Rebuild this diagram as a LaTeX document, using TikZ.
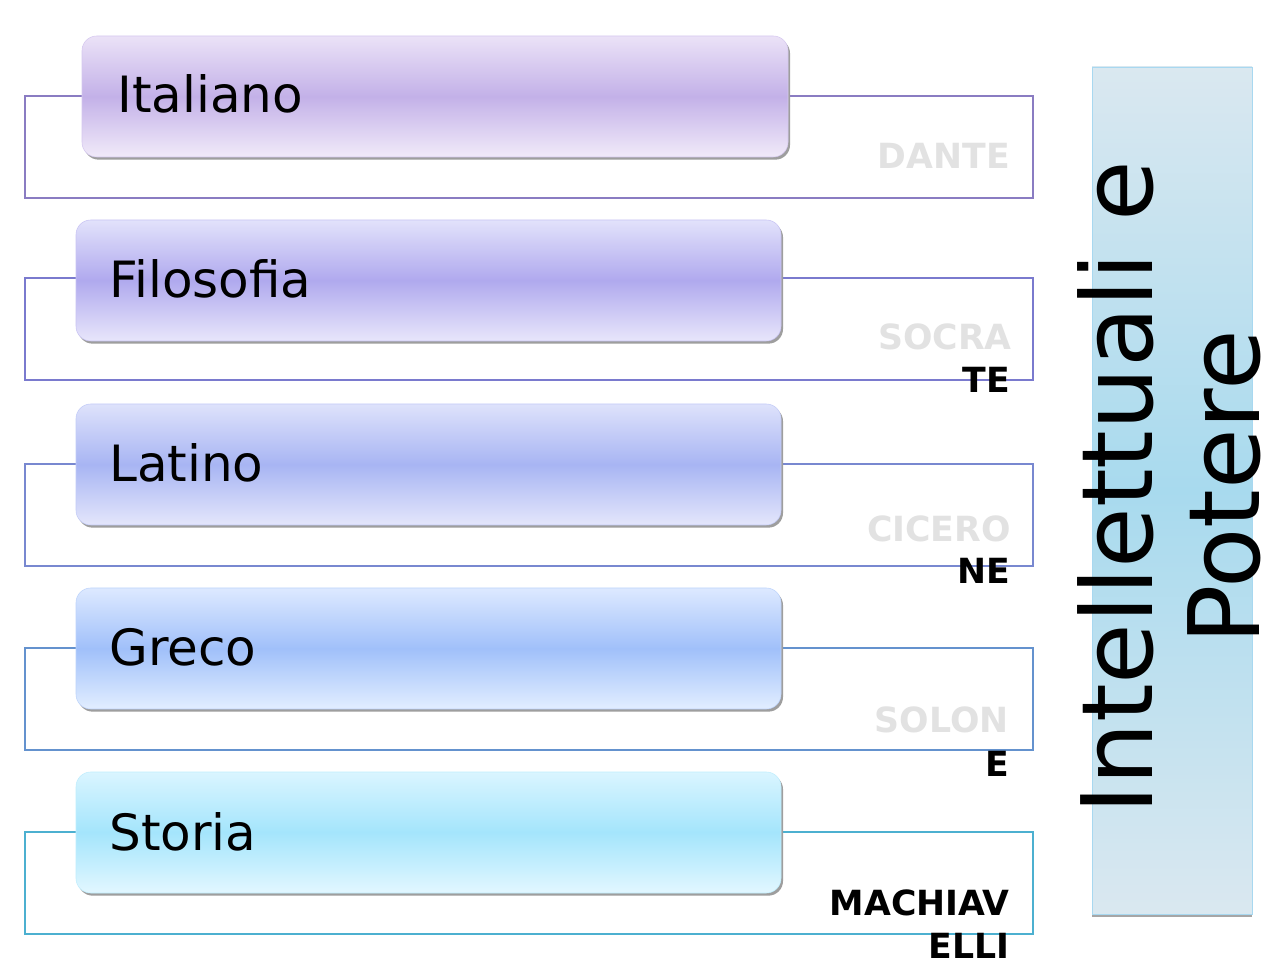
\documentclass[tikz,border=0pt]{standalone}
\usepackage{fontspec}
\setmainfont{DejaVu Sans}
\usetikzlibrary{shadows}
\definecolor{lg}{HTML}{E2E2E2}
\definecolor{fa}{HTML}{8A7CC2}
\definecolor{fb}{HTML}{7A7ACE}
\definecolor{fc}{HTML}{7888D0}
\definecolor{fd}{HTML}{6492CE}
\definecolor{fe}{HTML}{4CB0D0}
\definecolor{aT}{HTML}{EBE2F7}\definecolor{aM}{HTML}{C3B1E8}\definecolor{aB}{HTML}{F1EAF9}
\definecolor{bT}{HTML}{E2E2FB}\definecolor{bM}{HTML}{B0A9EE}\definecolor{bB}{HTML}{E8E6FB}
\definecolor{cT}{HTML}{DEE2FB}\definecolor{cM}{HTML}{A8B5F3}\definecolor{cB}{HTML}{E4E6FB}
\definecolor{dT}{HTML}{DDE9FF}\definecolor{dM}{HTML}{A0C0FA}\definecolor{dB}{HTML}{E2EEFF}
\definecolor{eT}{HTML}{DAF5FF}\definecolor{eM}{HTML}{A4E5FC}\definecolor{eB}{HTML}{E2F7FF}
\definecolor{pE}{HTML}{DAE8F0}\definecolor{pM}{HTML}{A8DAEE}\definecolor{pD}{HTML}{A8D8F0}
\begin{document}
\begin{tikzpicture}[x=0.75pt,y=0.75pt,
  frame/.style={draw=#1, line width=1.1pt, fill=white, inner sep=0pt,
    minimum width=756pt, minimum height=76.5pt},
  subj/.style n args={3}{rounded corners=11pt, inner sep=0pt,
    minimum width=528.75pt, minimum height=90.75pt,
    draw=#2!70, line width=0.4pt,
    top color=#1, bottom color=#3, middle color=#2,
    drop shadow={shadow xshift=1.5pt, shadow yshift=-2pt, fill=black!38, opacity=1}},
  subjtext/.style={anchor=base west, inner sep=0pt, font=\fontsize{37.5}{45}\selectfont},
  lab/.style={anchor=base east, inner sep=0pt, font=\fontsize{26}{32}\selectfont\bfseries},
  vtext/.style={anchor=base, rotate=90, inner sep=0pt, font=\fontsize{74}{80}\selectfont}]
\useasboundingbox (0,0) rectangle (1280,960);
% frames
\node[frame=fa] (f1) at (529,813) {};
\node[frame=fb] (f2) at (529,631) {};
\node[frame=fc] (f3) at (529,445) {};
\node[frame=fd] (f4) at (529,261) {};
\node[frame=fe] (f5) at (529,77) {};
% subject boxes
\node[subj={aT}{aM}{aB}, minimum width=529.5pt] (b1) at (435,863.5) {};
\node[subj={bT}{bM}{bB}] (b2) at (428.5,679.5) {};
\node[subj={cT}{cM}{cB}] (b3) at (428.5,495.5) {};
\node[subj={dT}{dM}{dB}] (b4) at (428.5,311.5) {};
\node[subj={eT}{eM}{eB}] (b5) at (428.5,127.5) {};
% subject texts
\node[subjtext] (t1) at (117,847) {Italiano};
\node[subjtext] (t2) at (109,662) {Filosofia};
\node[subjtext] (t3) at (109,478) {Latino};
\node[subjtext] (t4) at (109,294) {Greco};
\node[subjtext] (t5) at (109,110) {Storia};
% names
\node[lab, text=lg] (n1) at (1010,791) {DANTE};
\node[lab, text=lg] (n2a) at (1012,610) {SOCRA};
\node[lab] (n2b) at (1010,567) {TE};
\node[lab, text=lg] (n3a) at (1011,418) {CICERO};
\node[lab] (n3b) at (1010,376) {NE};
\node[lab, text=lg] (n4a) at (1009,227) {SOLON};
\node[lab] (n4b) at (1009,184) {E};
\node[lab] (n5a) at (1010,45) {MACHIAV};
\node[lab] (n5b) at (1010,2) {ELLI};
% title panel
\node[inner sep=0pt, minimum width=120pt, minimum height=635.25pt,
  draw=pD, line width=0.6pt,
  top color=pE, bottom color=pE, middle color=pM,
  drop shadow={shadow xshift=0pt, shadow yshift=-2pt, fill=black!35, opacity=1}] (p) at (1172,469.5) {};
\node[vtext] (v1) at (1152,472.5) {Intellettuali e};
\node[vtext] (v2) at (1259,472.5) {Potere};
\end{tikzpicture}
\end{document}
